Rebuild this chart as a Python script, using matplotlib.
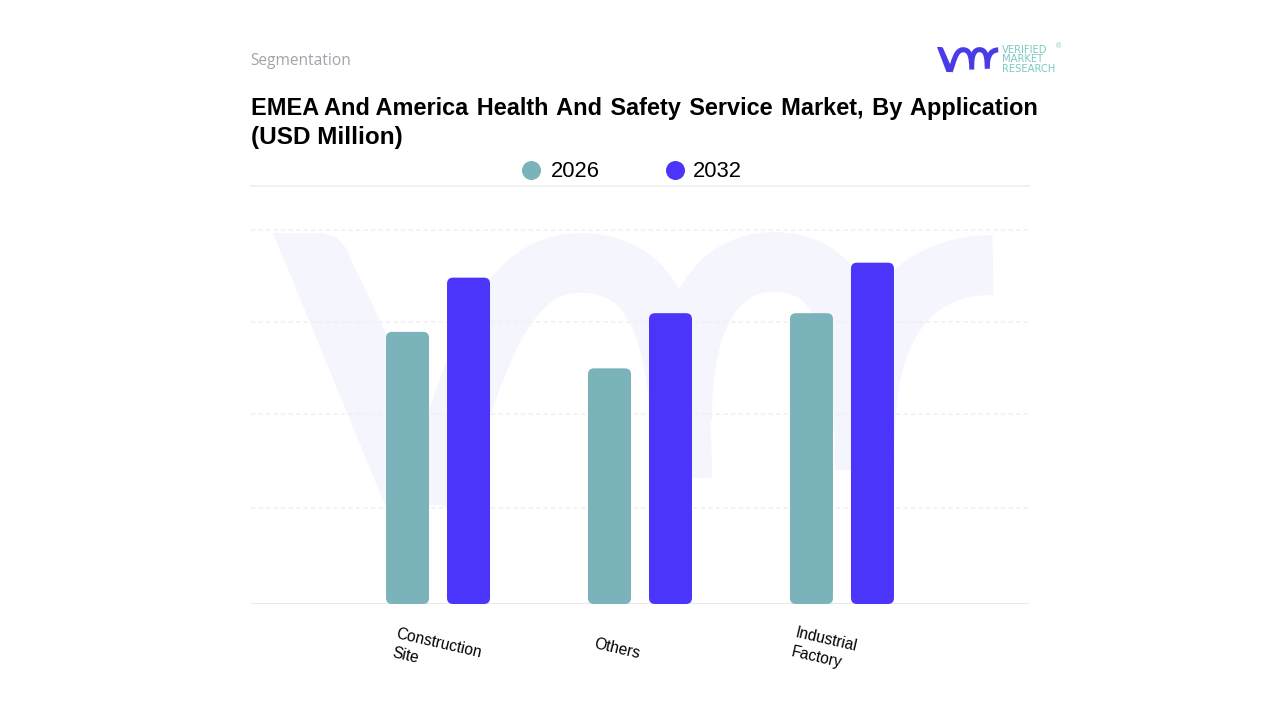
import matplotlib
matplotlib.use('Agg')
import matplotlib.pyplot as plt
from matplotlib.patches import FancyBboxPatch, PathPatch
from matplotlib.path import Path

categories = ['Construction\nSite', 'Others', 'Industrial\nFactory']
years = ['2026', '2032']
values_2026 = [2.91, 2.52, 3.11]
values_2032 = [3.49, 3.11, 3.65]
grid_values = [0, 1.03, 2.03, 3.02, 4.0]
top_line = 4.47

color_2026 = '#7ab3b9'
color_2032 = '#4b35fb'
watermark = '#f5f6fd'
logo_text = '#7cc8c2'

plt.rcParams['font.family'] = ['Liberation Sans', 'DejaVu Sans']

W, H = 1280, 720
fig = plt.figure(figsize=(W / 100, H / 100), dpi=100)

# background canvas for watermark and logo, in pixels
bg = fig.add_axes([0, 0, 1, 1], zorder=0)
bg.set_xlim(0, W)
bg.set_ylim(H, 0)
bg.axis('off')


def draw_vmr(ax, x0, y0, sx, sy, color):
    """vmr mark, outlined in the pixel frame of the big watermark."""
    def t(pts):
        return [(x0 + (x - 273) * sx, y0 + (y - 233) * sy) for x, y in pts]

    def curve(pts, lw):
        codes = [Path.MOVETO] + [Path.CURVE4] * (len(pts) - 1)
        ax.add_patch(PathPatch(Path(t(pts), codes), fc='none', ec=color, lw=lw * sx, capstyle='butt'))

    # left arm of the v
    v_arm = t([(273, 233), (322, 233), (336, 237), (346, 248), (352, 262),
               (437, 440), (458, 505), (385, 505)])
    ax.fill([p[0] for p in v_arm], [p[1] for p in v_arm], color=color, lw=0)
    # right arm of the v into first arch of the m
    curve([(428, 500), (470, 400), (490, 263), (580, 263),
           (650, 263), (682, 320), (682, 478)], 43)
    # second arch of the m
    curve([(682, 420), (682, 310), (720, 262), (773, 262),
           (835, 262), (865, 310), (865, 470)], 43)
    # r
    curve([(865, 440), (865, 320), (915, 265), (993, 265)], 43)


draw_vmr(bg, 273, 233, 1.0, 1.0, watermark)
draw_vmr(bg, 937, 47, 0.085, 0.092, '#4a3be8')

for label, y in zip(['VERIFIED', 'MARKET', 'RESEARCH'], [50, 59.5, 69]):
    bg.text(1002, y, label, color=logo_text, fontsize=7.2, va='center', ha='left',
            family=['DejaVu Sans'])
bg.text(1056, 47, '®', color=logo_text, fontsize=5, va='center', ha='left')

# chart area
left, right, top, bottom = 251, 1029, 186, 604
ax = fig.add_axes([left / W, 1 - bottom / H, (right - left) / W, (bottom - top) / H], zorder=1)
ax.patch.set_alpha(0)
ax.set_xlim(-0.926, 2.926)
ax.set_ylim(0, top_line)
for s in ax.spines.values():
    s.set_visible(False)

x_unit = (right - left) / (2.926 + 0.926)
y_unit = (bottom - top) / top_line

for g in grid_values[1:]:
    ax.axhline(g, color='#f0f0f3', lw=1.2, ls=(0, (2.5, 2)), zorder=1)
ax.axhline(grid_values[0], color='#e8eaee', lw=1.6, zorder=1)
ax.axhline(top_line, color='#f1f1f4', lw=1.4, clip_on=False, zorder=1)

bar_w = 43 / x_unit
offset = 30.5 / x_unit
radius = 6 / x_unit
aspect = x_unit / y_unit


def rounded_bar(xc, h, color):
    ax.add_patch(FancyBboxPatch((xc - bar_w / 2, 0), bar_w, h,
                                boxstyle=f'round,pad=0,rounding_size={radius}',
                                mutation_aspect=aspect, fc=color, ec='none', zorder=3))


for i in range(len(categories)):
    rounded_bar(i - offset, values_2026[i], color_2026)
    rounded_bar(i + offset, values_2032[i], color_2032)

ax.set_xticks([])
ax.set_yticks([])

# rotated category labels
label_pos = [(398, 626.5), (596, 636), (797.5, 625.5)]
for label, (lx, ly) in zip(categories, label_pos):
    bg.text(lx, ly, label, fontsize=11.2, rotation=-13, rotation_mode='anchor',
            ha='left', va='top', color='black', linespacing=1.35)

# header text
bg.text(250, 61, 'Segmentation', fontsize=11.2, color='#a3a3ab', ha='left', va='center',
        family=['Open Sans', 'DejaVu Sans'])
# hair spaces stand in for the justified word gaps of the original
title_line = 'EMEA And America\u200a Health\u200a And\u200a Safety\u200a Service\u200a Market,\u200a By\u200a Application'
bg.text(251, 108.5, title_line, fontsize=16.95, fontweight='bold', color='black',
        ha='left', va='center', family=['Liberation Sans', 'DejaVu Sans'])
bg.text(251, 137.5, '(USD Million)', fontsize=17.5, fontweight='bold', color='black',
        ha='left', va='center')

# legend
for year, c, cx, tx in zip(years, [color_2026, color_2032], [531, 674.5], [551, 693]):
    bg.scatter([cx], [170], s=187, color=c, lw=0)
    bg.text(tx, 171.5, year, fontsize=15.8, color='black', ha='left', va='center')

fig.savefig('out.png', dpi=100, facecolor='white')
